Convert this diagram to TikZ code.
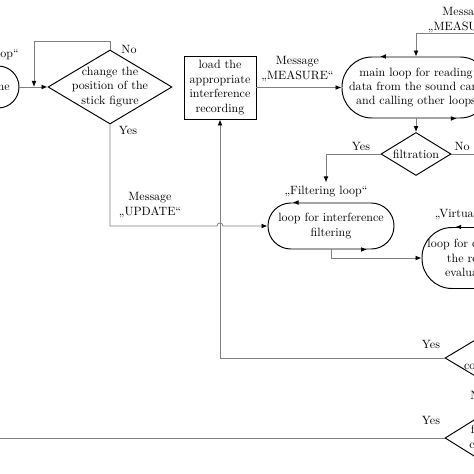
\documentclass[tikz,border=0pt]{standalone}
\usepackage{fontspec}
\usepackage{tikz}
\usetikzlibrary{positioning,arrows.meta,shapes.geometric}
\newcommand{\pxu}{0.833pt}

\begin{document}
\begin{tikzpicture}[x=\pxu, y=-\pxu,
		>={Latex[length=5pt,width=4pt,color=black,fill=black]},
		conn/.style={draw=gray, line width=0.7pt},
		decision/.style={diamond, draw, line width=0.8pt, inner sep=0pt},
		procbox/.style={rectangle, draw, line width=0.8pt, align=center, inner sep=1pt},
		loopbox/.style={rectangle, draw, line width=0.8pt, align=center, inner sep=0pt},
		loopdir/.style={-{Latex[length=5pt,width=4pt]}, line width=0.8pt},
		msg/.style={align=center, inner sep=0pt}]
		\useasboundingbox (0,0) rectangle (474,474);
		\clip (0,0) rectangle (474,474);

		% left part
		\node[circle, draw, line width=0.8pt, minimum size=42*\pxu, inner sep=0pt] (idle) at (-2,87) {time};
		\node[anchor=east] (idlelab) at (23,55) {„Drawing loop“};
		\node[decision, minimum width=124*\pxu, minimum height=74*\pxu,
			label={[align=center]center:{change the\\position of the\\stick figure}}] (pos) at (110,87) {};
		\node[procbox, minimum width=72*\pxu, minimum height=63*\pxu] (load) at (220,87.5) {load the\\appropriate\\interference\\recording};

		% loops
		\node[loopbox, minimum width=148*\pxu, minimum height=61*\pxu, rounded corners=25pt] (main) at (416,87.5) {main loop for reading\\data from the sound card\\and calling other loops};
		\node[decision, minimum width=70*\pxu, minimum height=43*\pxu, label=center:filtration] (filtr) at (416,154) {};
		\node (filtlab) at (326,192) {„Filtering loop“};
		\node[loopbox, minimum width=126*\pxu, minimum height=46*\pxu, rounded corners=19pt] (filt) at (331,226) {loop for interference\\filtering};
		\node (virtlab) at (472,215) {„Virtual loop“};
		\node[loopbox, minimum width=100*\pxu, minimum height=61*\pxu, rounded corners=25pt] (virt) at (472,258) {loop for checking\\the result\\evaluation};

		% checks on the right
		\node[decision, minimum width=80*\pxu, minimum height=48*\pxu,
			label={[align=center]center:{is it\\correct?}}] (chk1) at (485,358) {};
		\node[decision, minimum width=80*\pxu, minimum height=50*\pxu,
			label={[align=center]center:{finish\\cycle?}}] (chk2) at (485,438) {};

		% direction marks on the loops
		\draw[loopdir] ([xshift=-26pt]main.north) -- ([xshift=-30pt]main.north);
		\draw[loopdir] ([xshift=30pt]main.south) -- ([xshift=34pt]main.south);
		\draw[loopdir] ([xshift=-28pt]filt.north) -- ([xshift=-32pt]filt.north);
		\draw[loopdir] ([xshift=26pt]filt.south) -- ([xshift=30pt]filt.south);
		\draw[loopdir] ([xshift=-10pt]virt.north) -- ([xshift=-14pt]virt.north);

		\coordinate (nojoin) at (34,87);
		\coordinate (hop) at (217,226);
		\coordinate (measin) at (500,33);
		\coordinate (noout) at (500,154);
		\coordinate (yesout) at (-10,438);

		\draw[conn,->] (idle) -- (pos);
		\draw[conn,->] (pos.north) -- ++(0,-8) -| (nojoin);
		\node (no1) at (129,49) {No};
		\draw[conn,->] (pos.south) |- (hop) arc[start angle=180, end angle=0, radius=2.5pt] -- (filt.west);
		\node (yes1) at (128,130) {Yes};
		\node[msg] (updlab) at (150,205) {Message\\„UPDATE“};

		\draw[conn,->] (load) -- (main);
		\node[msg] (measlab) at (297.5,69) {Message\\„MEASURE“};
		\draw[conn,->] (measin) -| (main.north);
		\node[msg] (measlab2) at (464,20) {Message\\„MEASURE“};

		\draw[conn,->] (main.south) -- (filtr.north);
		\draw[conn,->] (filtr.west) -| (filtlab.north);
		\node (yes2) at (361,146) {Yes};
		\draw[conn] (filtr.east) -- (noout);
		\node (no2) at (462,146) {No};
		\draw[conn,->] (filt.south) |- (virt.west);

		\draw[conn,->] (chk1.west) -| (load.south);
		\node (yes3) at (431,344) {Yes};
		\draw[conn,->] (chk1.south) -- (chk2.north);
		\node[anchor=west, inner sep=0pt] (no3) at (470,395) {No};
		\draw[conn] (chk2.west) -- (yesout);
		\node (yes4) at (431,420) {Yes};
	\end{tikzpicture}
\end{document}
